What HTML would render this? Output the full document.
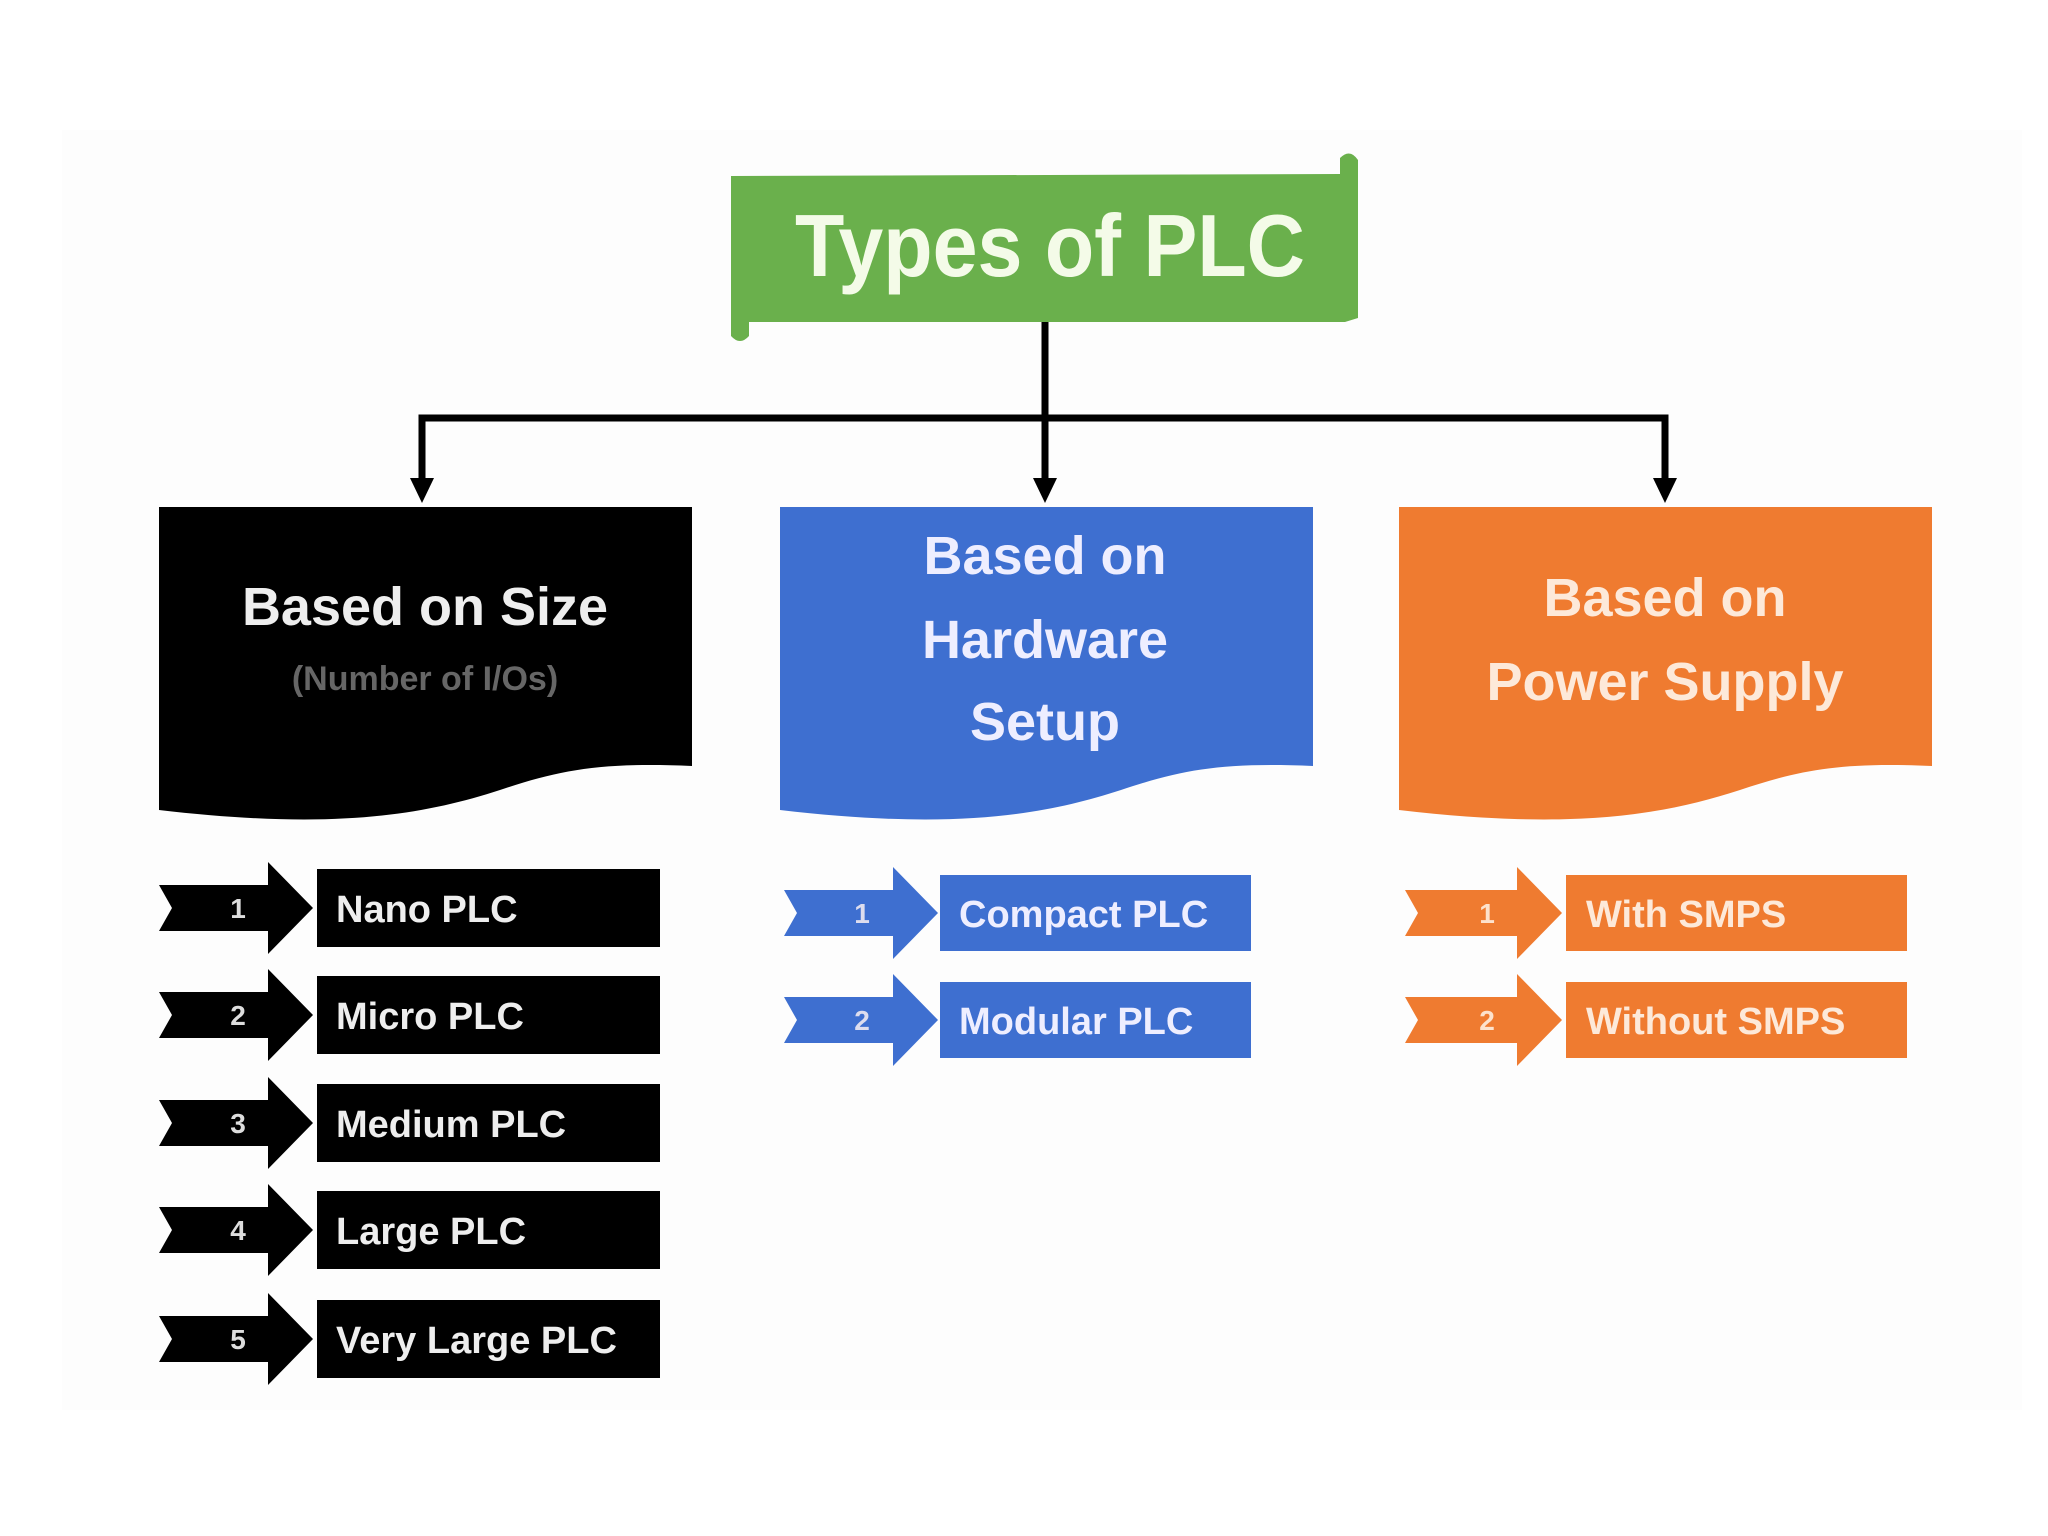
<!DOCTYPE html>
<html><head><meta charset="utf-8"><style>
html,body{margin:0;padding:0;background:#fff}
svg{display:block}
text{font-family:"Liberation Sans",sans-serif;font-weight:bold}
</style></head><body>
<svg width="2048" height="1536" viewBox="0 0 2048 1536">
<rect x="0" y="0" width="2048" height="1536" fill="#fff"/>
<rect x="62" y="130" width="1960" height="1280" fill="#fdfdfd"/>
<!-- title -->
<path d="M731 176 L1340 174 L1340 158 Q1350 148 1358 160 L1358 318 L1345 322 L749 322 L749 336 Q740 346 731 336 Z" fill="#6ab04c"/>
<text x="1050" y="276" font-size="88" fill="#f4fbe8" text-anchor="middle" textLength="510" lengthAdjust="spacingAndGlyphs">Types of PLC</text>
<!-- connectors -->
<g stroke="#000" stroke-width="7" fill="none">
<line x1="1045" y1="322" x2="1045" y2="485"/>
<polyline points="422,485 422,418 1665,418 1665,485"/>
</g>
<g fill="#000">
<polygon points="410,478 434,478 422,503"/>
<polygon points="1033,478 1057,478 1045,503"/>
<polygon points="1653,478 1677,478 1665,503"/>
</g>
<!-- header boxes -->
<path d="M159 507 H692 V766 C600 762 560 770 500 790 C420 816 330 830 159 810 Z" fill="#000"/>
<path d="M780 507 H1313 V766 C1221 762 1181 770 1121 790 C1041 816 951 830 780 810 Z" fill="#3e6fd0"/>
<path d="M1399 507 H1932 V766 C1840 762 1800 770 1740 790 C1660 816 1570 830 1399 810 Z" fill="#ef7b30"/>
<text x="425" y="625" font-size="54" fill="#eee" text-anchor="middle">Based on Size</text>
<text x="425" y="690" font-size="34" fill="#666" text-anchor="middle">(Number of I/Os)</text>
<g font-size="54" fill="#eef" text-anchor="middle">
<text x="1045" y="574">Based on</text>
<text x="1045" y="658">Hardware</text>
<text x="1045" y="740">Setup</text>
</g>
<g font-size="54" fill="#fde9d9" text-anchor="middle">
<text x="1665" y="616">Based on</text>
<text x="1665" y="700">Power Supply</text>
</g>
<!-- list items -->
<g id="items">
</g>
<g font-size="38">
<!-- black -->
<g fill="#000">
<path d="M159 885 H268 V862 L313 908 L268 954 V931 H159 L172 908 Z"/>
<rect x="317" y="869" width="343" height="78"/>
<path d="M159 992 H268 V969 L313 1015 L268 1061 V1038 H159 L172 1015 Z"/>
<rect x="317" y="976" width="343" height="78"/>
<path d="M159 1100 H268 V1077 L313 1123 L268 1169 V1146 H159 L172 1123 Z"/>
<rect x="317" y="1084" width="343" height="78"/>
<path d="M159 1207 H268 V1184 L313 1230 L268 1276 V1253 H159 L172 1230 Z"/>
<rect x="317" y="1191" width="343" height="78"/>
<path d="M159 1316 H268 V1293 L313 1339 L268 1385 V1362 H159 L172 1339 Z"/>
<rect x="317" y="1300" width="343" height="78"/>
</g>
<g fill="#ddd" font-size="28" text-anchor="middle">
<text x="238" y="918">1</text><text x="238" y="1025">2</text><text x="238" y="1133">3</text><text x="238" y="1240">4</text><text x="238" y="1349">5</text>
</g>
<g fill="#eee">
<text x="336" y="922">Nano PLC</text>
<text x="336" y="1029">Micro PLC</text>
<text x="336" y="1137">Medium PLC</text>
<text x="336" y="1244">Large PLC</text>
<text x="336" y="1353">Very Large PLC</text>
</g>
<!-- blue -->
<g fill="#3e6fd0">
<path d="M784 890 H893 V867 L938 913 L893 959 V936 H784 L797 913 Z"/>
<rect x="940" y="875" width="311" height="76"/>
<path d="M784 997 H893 V974 L938 1020 L893 1066 V1043 H784 L797 1020 Z"/>
<rect x="940" y="982" width="311" height="76"/>
</g>
<g fill="#dde" font-size="28" text-anchor="middle"><text x="862" y="923">1</text><text x="862" y="1030">2</text></g>
<g fill="#eef"><text x="959" y="927">Compact PLC</text><text x="959" y="1034">Modular PLC</text></g>
<!-- orange -->
<g fill="#ef7b30">
<path d="M1405 890 H1517 V867 L1562 913 L1517 959 V936 H1405 L1418 913 Z"/>
<rect x="1566" y="875" width="341" height="76"/>
<path d="M1405 997 H1517 V974 L1562 1020 L1517 1066 V1043 H1405 L1418 1020 Z"/>
<rect x="1566" y="982" width="341" height="76"/>
</g>
<g fill="#fde2cc" font-size="28" text-anchor="middle"><text x="1487" y="923">1</text><text x="1487" y="1030">2</text></g>
<g fill="#fde9d9"><text x="1586" y="927">With SMPS</text><text x="1586" y="1034">Without SMPS</text></g>
</g>
</svg>
</body></html>
